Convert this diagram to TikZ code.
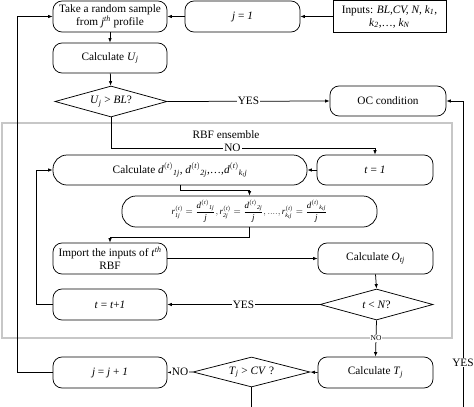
\documentclass[tikz,border=0pt]{standalone}
\usepackage{amsmath}
\usepackage{fontspec}
\setmainfont{Liberation Serif}
\usetikzlibrary{shapes.geometric,arrows.meta}

\tikzset{every picture/.style={line width=0.75pt}}
\tikzset{
  rbox/.style={draw, rounded corners=9pt, minimum width=114pt, minimum height=31pt, inner sep=1pt, align=center},
  sbox/.style={draw, minimum width=113pt, minimum height=32pt, inner sep=1pt, align=center},
  dbox/.style={draw, diamond, aspect=3.6, minimum width=113pt, minimum height=31pt, inner sep=0pt},
  conn/.style={-{Latex[length=4.5pt,width=3.5pt]}},
  lbl/.style={fill=white, inner sep=1pt}
}
\newcommand{\mv}[1]{\textit{#1}}

\begin{document}
\begin{tikzpicture}[x=1pt,y=1pt,yscale=-1,xscale=1,font=\fontsize{11.3}{13}\selectfont]
	\useasboundingbox (0,0) rectangle (474,407);

	%Shape: Rectangle (RBF ensemble frame)
	\draw [draw=black!22, line width=2pt] (2,123) rectangle (452,338) ;
	% Text Node
	\node (rbf) at (226,135) {RBF ensemble};

	%Shape: Rounded Rect
	\node [rbox] (sample) at (110,16.5) {Take a random sample\\from \mv{j}\textsuperscript{\mv{th}} profile};
	\node [rbox, minimum width=115pt] (jone) at (242.5,16.5) {\mv{j} = \mv{1}};
	%Shape: Rectangle
	\node [sbox] (inputs) at (389.5,16.5) {Inputs: \mv{BL,CV, N, k}\textsubscript{\mv{1}},\\\mv{k}\textsubscript{\mv{2}},\ldots, \mv{k}\textsubscript{\mv{N}}};
	\node [rbox, minimum height=30pt] (calcU) at (110,58) {Calculate \mv{U}\textsubscript{\mv{j}}};
	%Shape: Diamond
	\node [dbox, minimum width=112pt] (diaU) at (111,101.5) {\mv{U}\textsubscript{\mv{j}} > \mv{BL}?};
	\node [rbox, minimum width=116pt, minimum height=30pt] (oc) at (388,101) {OC condition};

	%Shape: Rounded Rect (inside the frame)
	\node [rbox, minimum width=254pt, minimum height=30pt, rounded corners=14pt] (calcd) at (180,170) {Calculate $\mv{d}^{(\mv{t})}{}_{\mv{1j}}$, $\mv{d}^{(\mv{t})}{}_{\mv{2j}}$,\ldots,$\mv{d}^{(\mv{t})}{}_{\mv{k}_{\mv{t}}\mv{j}}$};
	\node [rbox, minimum width=116pt, minimum height=30pt] (tone) at (375,170) {\mv{t} = \mv{1}};
	\node [rbox, minimum width=255pt, rounded corners=14pt, font=\fontsize{9}{10}\selectfont] (ratio) at (249.5,211.5) {$\mv{r}^{(\mv{t})}_{\mv{1j}}=\dfrac{\mv{d}^{(\mv{t})}{}_{\mv{1j}}}{\mv{j}},\mv{r}^{(\mv{t})}_{\mv{2j}}=\dfrac{\mv{d}^{(\mv{t})}{}_{\mv{2j}}}{\mv{j}},....,\mv{r}^{(\mv{t})}_{\mv{k}_{\mv{t}}\mv{j}}=\dfrac{\mv{d}^{(\mv{t})}{}_{\mv{k}_{\mv{t}}\mv{j}}}{\mv{j}}$};
	\node [rbox] (import) at (110,258.5) {Import the inputs of \mv{t}\textsuperscript{\mv{th}}\\RBF};
	\node [rbox, minimum width=115pt] (calcO) at (375.5,258.5) {Calculate \mv{O}\textsubscript{\mv{tj}}};
	\node [dbox] (diaT) at (376.5,304.5) {\mv{t} < \mv{N}?};
	\node [rbox] (tinc) at (110,304.5) {\mv{t} = \mv{t}+\mv{1}};

	%Shape: Rounded Rect (below the frame)
	\node [rbox, minimum width=115pt] (calcT) at (375.5,372.5) {Calculate \mv{T}\textsubscript{\mv{j}}};
	\node [dbox, minimum width=117pt, minimum height=30pt] (diaCV) at (251.5,372) {\mv{T}\textsubscript{\mv{j}} > \mv{CV} ?};
	\node [rbox] (jinc) at (110,372.5) {\mv{j} = \mv{j} + \mv{1}};

	\coordinate (noU) at (111,148);
	\coordinate (back) at (463,420);

	%Straight Lines
	\draw [conn] (inputs.west) -- (jone.east) ;
	\draw [conn] (jone.west) -- (sample.east) ;
	\draw [conn] (sample) -- (calcU) ;
	\draw [conn] (calcU) -- (diaU) ;
	\draw [conn] (diaU.east) -- node[lbl] {YES} (oc.west) ;
	\draw [conn] (diaU.south) -- (noU) -| node[lbl, pos=0.23] {NO} (tone.north) ;
	\draw [conn] (tone.west) -- (calcd.east) ;
	\draw [conn] (calcd.south) -- ++(0,5) -| (ratio.north) ;
	\draw [conn] (ratio.south) -- ++(0,10) -| (import.north) ;
	\draw [conn] (import.east) -- (calcO.west) ;
	\draw [conn] (calcO.south) -- (diaT.north) ;
	\draw [conn] (diaT.west) -- node[lbl] {YES} (tinc.east) ;
	\draw [conn] (tinc.west) -- ++(-16,0) |- (calcd.west) ;
	\draw [conn] (diaT.south) -- node[lbl, font=\fontsize{7.5}{9}\selectfont] {NO} (calcT.north) ;
	\draw [conn] (calcT.west) -- (diaCV.east) ;
	\draw [conn] (diaCV.west) -- node[lbl] {NO} (jinc.east) ;
	\draw [conn] (jinc.west) -- ++(-35,0) |- (sample.west) ;
	\draw [conn] (diaCV.south) |- (back) |- node[lbl, pos=0.09] {YES} (oc.east) ;

\end{tikzpicture}
\end{document}
